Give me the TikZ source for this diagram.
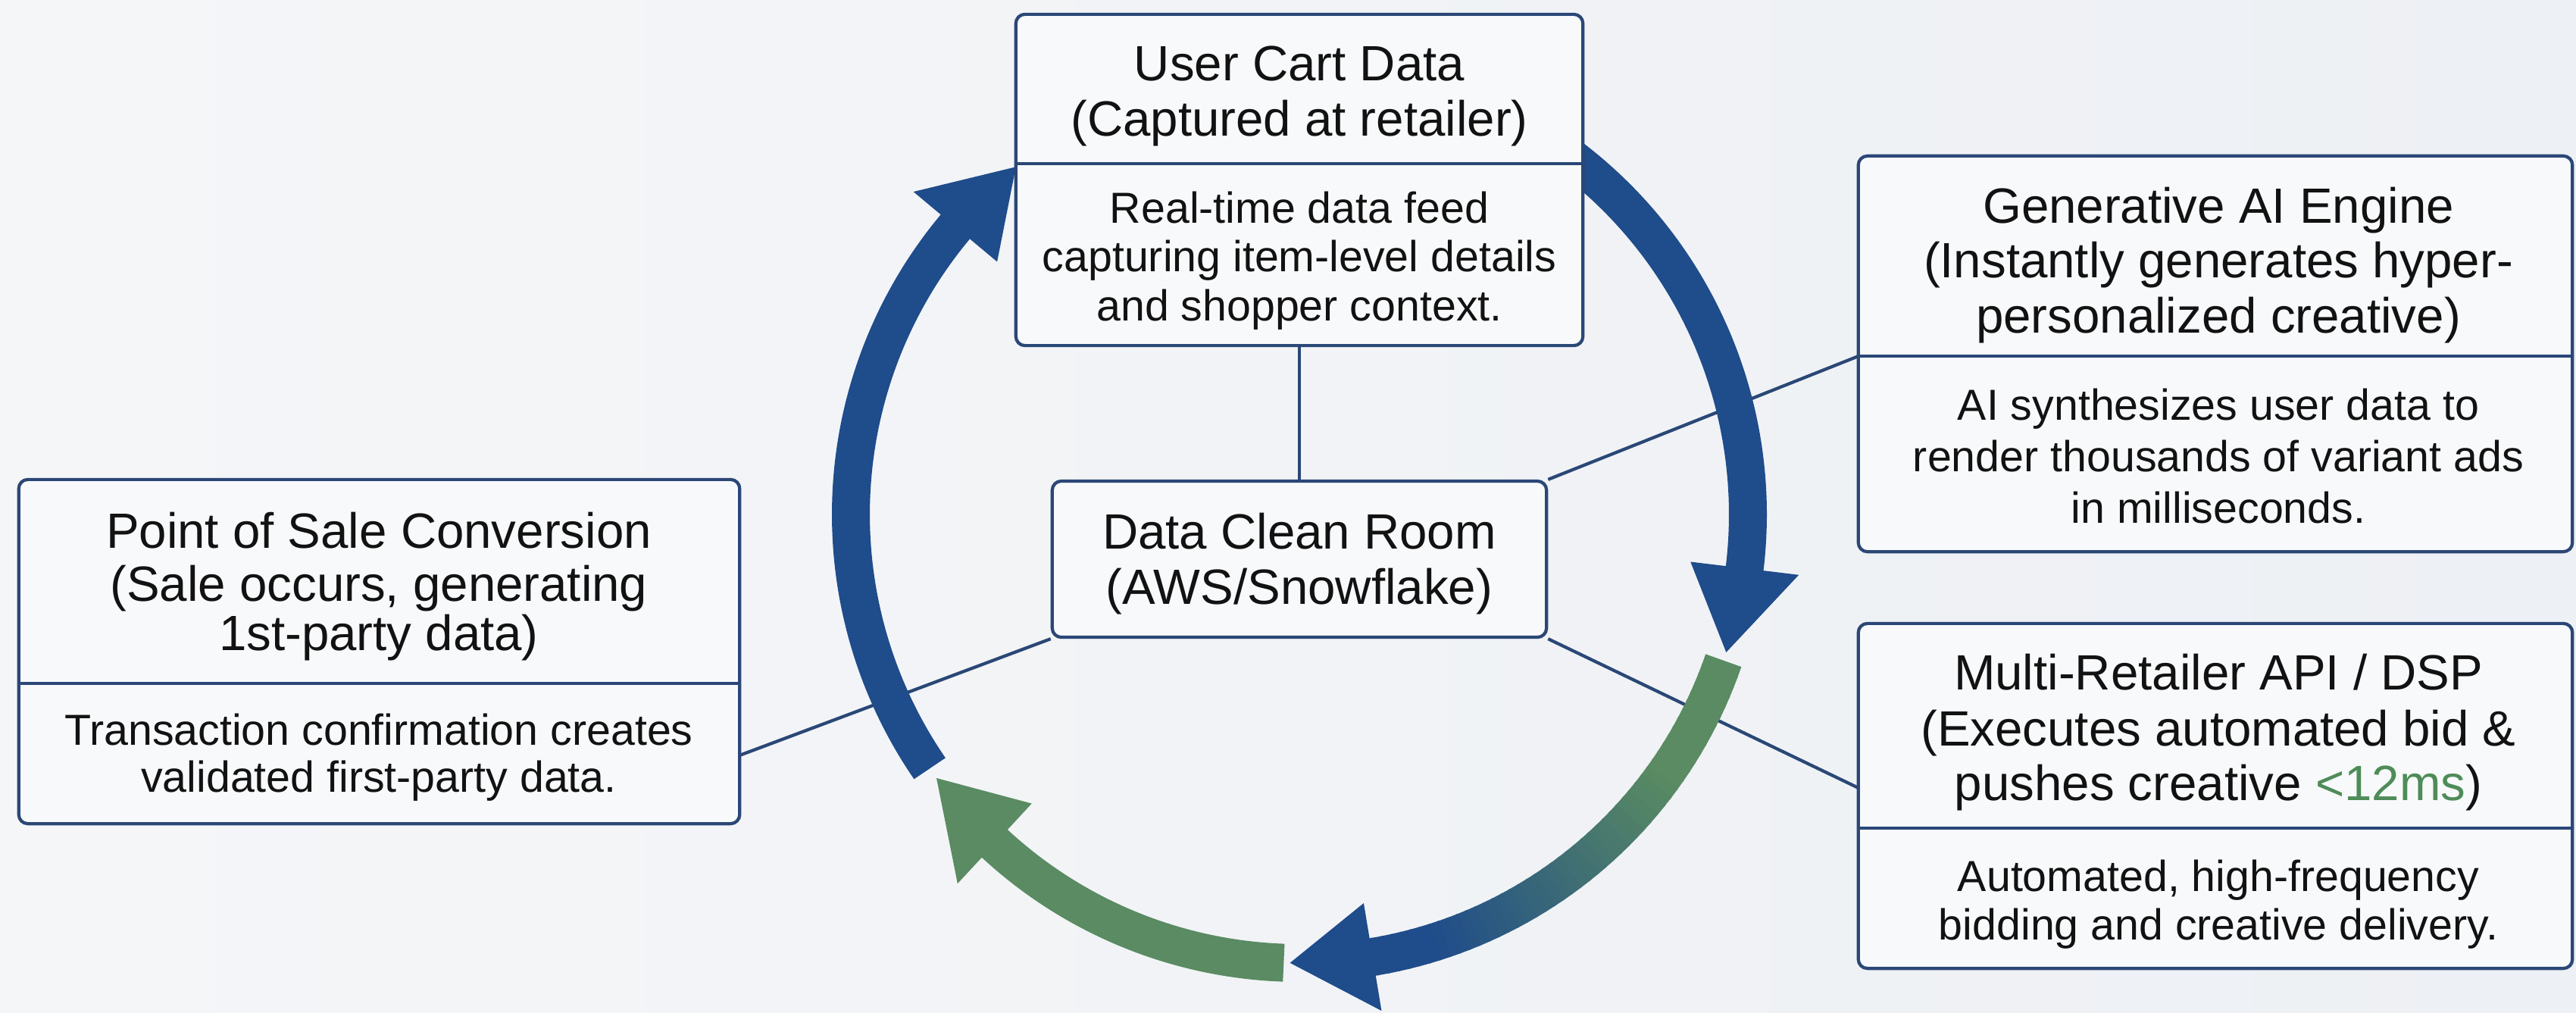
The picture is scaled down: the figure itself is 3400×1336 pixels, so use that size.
\documentclass[tikz,border=0pt]{standalone}
\usepackage{fontspec}
\setmainfont{Liberation Sans}
\usetikzlibrary{calc}
\definecolor{navy}{HTML}{2A4776}
\definecolor{arcblue}{HTML}{1F4C8A}
\definecolor{arcgreen}{HTML}{5A8B62}
\definecolor{msgreen}{HTML}{4E8C58}
\definecolor{boxfill}{HTML}{F8F9FB}
\definecolor{bgl}{HTML}{F5F6F8}
\definecolor{bgr}{HTML}{EDF0F4}
\definecolor{ink}{HTML}{121212}
\newcommand\ttlfont{\fontsize{18.6pt}{21pt}\selectfont}
\newcommand\bdyfont{\fontsize{16.3pt}{18.5pt}\selectfont}
\newcommand\cyclehead[3]{\fill[#1] ({1715+592*cos(#2)},{679-592*sin(#2)}) -- ({1715+664*cos(#3)},{679-664*sin(#3)}) -- ({1715+520*cos(#3)},{679-520*sin(#3)}) -- cycle;}
\newcommand\cycleshaft[3]{\draw[#1, line width=0.5cm] plot[domain=#2:#3, samples=90] ({1715+592*cos(\x)},{679-592*sin(\x)});}
\pgfdeclarelayer{back}
\pgfdeclarelayer{mid}
\pgfsetlayers{back,mid,main}
\begin{document}
\begin{tikzpicture}[x=0.01cm,y=-0.01cm,
  box/.style={draw=navy, line width=1.2pt, fill=boxfill, rounded corners=0.12cm, inner sep=0pt},
  conn/.style={draw=navy, line width=1.2pt},
  ttl/.style={font=\ttlfont, text=ink, anchor=base, inner sep=0pt},
  bdy/.style={font=\bdyfont, text=ink, anchor=base, inner sep=0pt}]
\useasboundingbox (0,0) rectangle (3400,1336);
\begin{pgfonlayer}{back}
\shade[left color=bgl, right color=bgr] (0,0) rectangle (3400,1336);
\end{pgfonlayer}

% boxes
\node[box, minimum width=7.48cm, minimum height=4.37cm] (cart) at (1715,237.5) {};
\node[box, minimum width=9.42cm, minimum height=5.22cm] (genai) at (2924,467) {};
\node[box, minimum width=9.42cm, minimum height=4.55cm] (multi) at (2924,1050.5) {};
\node[box, minimum width=9.51cm, minimum height=4.54cm] (pos) at (500.5,860) {};
\node[box, minimum width=6.52cm, minimum height=2.06cm] (dcr) at (1715,738) {};

% dividers
\coordinate (cartdiv) at (1715,216);
\coordinate (genaidiv) at (2924,470);
\coordinate (multidiv) at (2924,1093);
\coordinate (posdiv) at (500,902);
\draw[conn] (cart.west |- cartdiv) -- (cart.east |- cartdiv);
\draw[conn] (genai.west |- genaidiv) -- (genai.east |- genaidiv);
\draw[conn] (multi.west |- multidiv) -- (multi.east |- multidiv);
\draw[conn] (pos.west |- posdiv) -- (pos.east |- posdiv);

% connector end points
\coordinate (genaiin) at (2453,470);
\coordinate (multiin) at (2453,1040);
\coordinate (posin) at (976,997);

\begin{pgfonlayer}{back}
\draw[conn] (cart.south) -- (dcr.north);
\draw[conn] (dcr.north east) -- (genaiin);
\draw[conn] (dcr.south east) -- (multiin);
\draw[conn] (dcr.south west) -- (posin);
\end{pgfonlayer}

% cycle arrows
\begin{pgfonlayer}{mid}
\cycleshaft{arcblue}{57}{-7.4}
\cyclehead{arcblue}{-17.9}{-6.9}
\foreach \i in {0,...,47} {
  \pgfmathsetmacro\aA{-19-\i*1.3}
  \pgfmathsetmacro\aB{\aA-1.6}
  \pgfmathsetmacro\p{max(0,min(100,(\aA+72)*100/37))}
  \draw[color=arcgreen!\p!arcblue, line width=0.5cm] plot[domain=\aA:\aB, samples=4] ({1715+592*cos(\x)},{679-592*sin(\x)});
}
\cyclehead{arcblue}{-91.2}{-80.6}
\cycleshaft{arcgreen}{268}{226.6}
\cyclehead{arcgreen}{216}{227.2}
\cycleshaft{arcblue}{214.5}{139.5}
\cyclehead{arcblue}{129.2}{140.1}
\end{pgfonlayer}

% texts
\node[ttl] (cartT1) at (1715,106) {User Cart Data};
\node[ttl] (cartT2) at (1715,179) {(Captured at retailer)};
\node[bdy] (cartB1) at (1715,294) {Real-time data feed};
\node[bdy] (cartB2) at (1715,358) {capturing item-level details};
\node[bdy] (cartB3) at (1715,423) {and shopper context.};

\node[ttl] (genT1) at (2928,294) {Generative AI Engine};
\node[ttl] (genT2) at (2928,366) {(Instantly generates hyper-};
\node[ttl] (genT3) at (2928,439) {personalized creative)};
\node[bdy] (genB1) at (2928,554) {AI synthesizes user data to};
\node[bdy] (genB2) at (2928,622) {render thousands of variant ads};
\node[bdy] (genB3) at (2928,690) {in milliseconds.};

\node[ttl] (mulT1) at (2928,910) {Multi-Retailer API / DSP};
\node[ttl] (mulT2) at (2928,984) {(Executes automated bid \&};
\node[ttl] (mulT3) at (2928,1056) {pushes creative {\color{msgreen}<12ms})};
\node[bdy] (mulB1) at (2928,1176) {Automated, high-frequency};
\node[bdy] (mulB2) at (2928,1240) {bidding and creative delivery.};

\node[ttl] (posT1) at (500,723) {Point of Sale Conversion};
\node[ttl] (posT2) at (500,793) {(Sale occurs, generating};
\node[ttl] (posT3) at (500,858) {1st-party data)};
\node[bdy] (posB1) at (500,983) {Transaction confirmation creates};
\node[bdy] (posB2) at (500,1045) {validated first-party data.};

\node[ttl] (dcrT1) at (1715,724) {Data Clean Room};
\node[ttl] (dcrT2) at (1715,797) {(AWS/Snowflake)};
\end{tikzpicture}
\end{document}
